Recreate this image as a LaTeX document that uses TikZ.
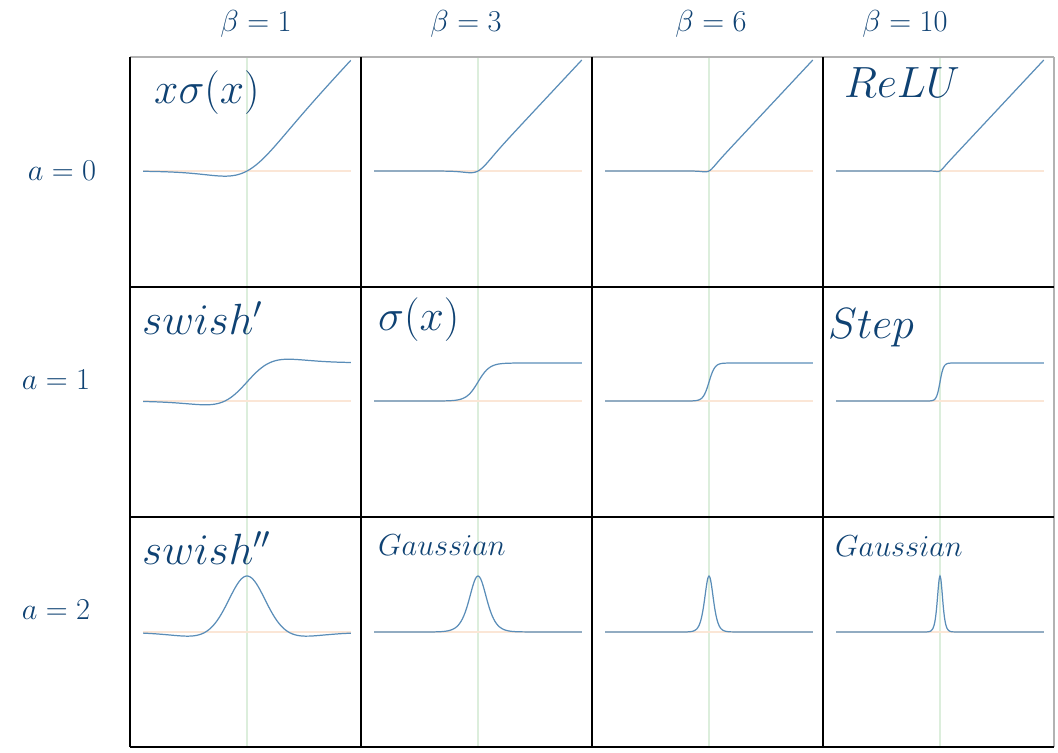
\documentclass[tikz,border=0pt]{standalone}
\begin{document}
\begin{tikzpicture}[x=0.02cm,y=-0.02cm,
  declare function={sg(\t)=1/(1+exp(-max(min(\t,9),-9)));},
  lbl/.style={text=txt,font=\fontsize{17}{19}\selectfont},
  big/.style={text=txt,font=\fontsize{24}{26}\selectfont,anchor=west},
  mid/.style={text=txt,font=\fontsize{16}{18}\selectfont,anchor=west},
  crv/.style={draw=crvc,line width=0.7pt,smooth},
  gl/.style={draw=black,line width=1.4pt}]
\definecolor{txt}{HTML}{0F4273}
\definecolor{crvc}{HTML}{5A8DB8}
\definecolor{axo}{HTML}{FBE6D6}
\definecolor{axg}{HTML}{DCEEDC}
\useasboundingbox (0,0) rectangle (1058,752);
% axes
\foreach \c in {247,478,709,940}{
  \foreach \r/\b in {57/287,287/517,517/747}{
    \draw[axg,line width=0.6pt] (\c,\r) -- (\c,\b);}
  \foreach \y in {171,401,632}{
    \draw[axo,line width=0.6pt] (\c-104,\y) -- (\c+104,\y);}}
% grid
\draw[gray!60,line width=0.8pt] (130,57) -- (1054,57);
\draw[gray!60,line width=0.8pt] (1054,57) -- (1054,747);
\draw[gl] (130,57) -- (130,747);
\foreach \xx in {361,592,823}{\draw[gl] (\xx,57) -- (\xx,747);}
\foreach \yy in {287,517,747}{\draw[gl] (130,\yy) -- (1054,\yy);}
% headers
\node[lbl] (b1) at (256,24) {$\beta=1$};
\node[lbl] (b3) at (466,24) {$\beta=3$};
\node[lbl] (b6) at (711,24) {$\beta=6$};
\node[lbl] (b10) at (905,24) {$\beta=10$};
\node[lbl] (a0) at (62,171) {$a=0$};
\node[lbl] (a1) at (56,380) {$a=1$};
\node[lbl] (a2) at (56,610) {$a=2$};
% cell labels
\node[big] (l1) at (148,93) {$x\sigma(x)$};
\node[big] (l2) at (838,83) {$ReLU$};
\node[big] (l3) at (136,318) {$swish'$};
\node[big] (l4) at (372,320) {$\sigma(x)$};
\node[big] (l5) at (822,328) {$Step$};
\node[big] (l6) at (136,548) {$swish''$};
\node[mid] (l7) at (372,545) {$Gaussian$};
\node[mid] (l8) at (829,546) {$Gaussian$};
% row 1
\foreach \c/\b in {247/1,478/3,709/6,940/10}{
  \draw[crv,shift={(\c,171)}] plot[domain=-6:6,samples=120]
    ({\x*17.3},{-18.5*\x*sg(\b*\x)});}
% row 2
\draw[crv,shift={(247,401)}] plot[domain=-6:6,samples=120]
  ({\x*17.3},{-38*(sg(\x) + \x*sg(\x)*(1-sg(\x)))});
\foreach \c/\b in {478/3,709/6,940/10}{
  \draw[crv,shift={(\c,401)}] plot[domain=-6:6,samples=160]
    ({\x*17.3},{-38*sg(\b*\x)});}
% row 3
\draw[crv,shift={(247,632)}] plot[domain=-6:6,samples=120]
  ({\x*17.3},{-112*sg(\x)*(1-sg(\x))*(2+\x*(1-2*sg(\x)))});
\foreach \c/\b in {478/3,709/6,940/10}{
  \draw[crv,shift={(\c,632)}] plot[domain=-6:6,samples=241]
    ({\x*17.3},{-224*sg(\b*\x)*(1-sg(\b*\x))});}
\end{tikzpicture}
\end{document}
